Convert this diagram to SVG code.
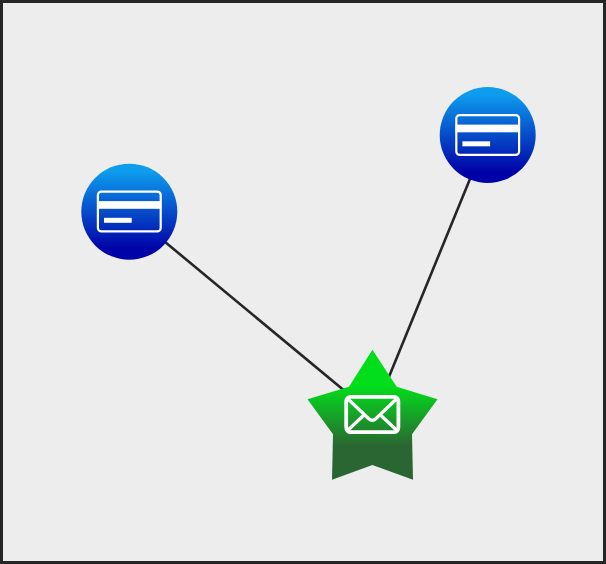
<svg xmlns="http://www.w3.org/2000/svg" width="606" height="564" viewBox="0 0 606 564">
<style>
.edge{stroke:#262626;stroke-width:2.6;fill:none}
.wl{fill:none;stroke:#fff}
.wf{fill:#fff}
</style>
<defs>
<linearGradient id="blue" x1="0" y1="0" x2="0" y2="1"><stop offset="0.08" stop-color="#0d9cee"/><stop offset="0.88" stop-color="#0003a8"/></linearGradient>
<linearGradient id="green" gradientUnits="userSpaceOnUse" x1="0" y1="349" x2="0" y2="480"><stop offset="0.28" stop-color="#02de1c"/><stop offset="0.74" stop-color="#2a6632"/></linearGradient>
<g id="card">
<rect class="wl" x="-31.4" y="-19.9" width="62.8" height="39.8" rx="3.5" stroke-width="2.2"/>
<rect class="wf" x="-32" y="-10.4" width="64" height="7.7"/>
<rect class="wf" x="-25.3" y="6.3" width="27.7" height="5"/>
</g>
</defs>
<rect x="1.5" y="1.5" width="603" height="561" fill="#ededee" stroke="#262626" stroke-width="3"/>
<g id="connectors">
<line class="edge" x1="129.5" y1="212.5" x2="372.5" y2="414"/>
<line class="edge" x1="488" y1="135" x2="372.5" y2="417"/>
</g>
<g id="node-card-left">
<circle cx="129.3" cy="211.7" r="48" fill="url(#blue)"/>
<use href="#card" x="129.3" y="211.5"/>
</g>
<g id="node-card-right">
<circle cx="487.7" cy="135" r="48" fill="url(#blue)"/>
<use href="#card" x="487.7" y="135"/>
</g>
<g id="node-star">
<path d="M372.4 349.7L396.7 386.7L437.5 399.3L412 434.3L413 479.8L372.4 465L332 479.8L333 434.3L307.5 399.3L349 386.7Z" fill="url(#green)"/>
<rect class="wl" x="346.2" y="396.9" width="52.2" height="35.2" rx="4.5" stroke-width="3.8"/>
<path class="wl" stroke-width="3.2" d="M347 398L368.5 418.5Q372.3 422 376 418.5L397.5 398M347 431L364 415M397.5 431L380.5 415"/>
</g>
</svg>
